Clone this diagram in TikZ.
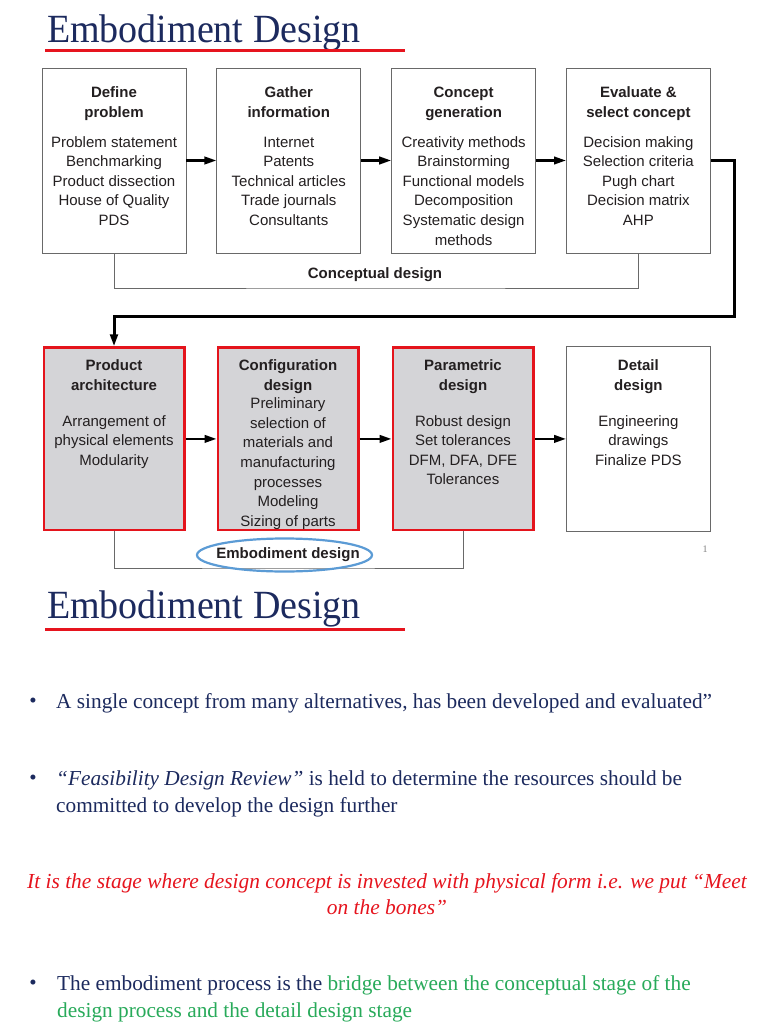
\documentclass[tikz,border=0pt]{standalone}
\usepackage{fontspec}
\setmainfont{Liberation Serif}
\setsansfont{Liberation Sans}
\newfontfamily\titlefont[FakeStretch=0.95]{Liberation Serif}
\usetikzlibrary{positioning, arrows.meta, shapes.geometric}

\definecolor{navy}{RGB}{28,42,94}
\definecolor{slidered}{RGB}{230,20,30}
\definecolor{bridgegreen}{RGB}{40,170,90}
\definecolor{ringblue}{RGB}{91,155,213}
\definecolor{boxgray}{RGB}{105,105,105}
\definecolor{corefill}{RGB}{212,212,215}
\definecolor{corered}{RGB}{228,20,28}
\definecolor{inktext}{RGB}{35,31,32}

% heading strut, heading, gap, body
\newcommand{\stagetext}[4]{%
  \parbox[t][177pt][t]{140pt}{\centering\rule{0pt}{#1}\textbf{#2}\par\vspace{#3}#4}}

\begin{document}
\begin{tikzpicture}[x=1pt, y=-1pt, node distance=30pt,
  every node/.style={font=\sffamily},
  stage/.style={draw=boxgray, line width=0.8pt, fill=white, inner xsep=2pt,
    inner ysep=4pt, text=inktext, font=\sffamily\fontsize{15}{19.6}\selectfont},
  core/.style={draw=corered, line width=2.6pt, fill=corefill, inner xsep=0.2pt, inner ysep=2.7pt},
  flow/.style={-{Triangle[length=12pt,width=7.5pt]}, line width=2.4pt},
  bracket/.style={draw=boxgray, line width=0.9pt},
  slidetitle/.style={anchor=base west, inner sep=0pt, text=navy, font=\titlefont\fontsize{40}{44}\selectfont},
  titlerule/.style={draw=slidered, line width=3pt},
  bullettext/.style={anchor=base west, align=left, inner sep=0pt, text=navy,
    font=\rmfamily\fontsize{21.3}{27}\selectfont},
  bulletdot/.style={inner sep=0pt, text=navy, font=\rmfamily\fontsize{21}{21}\selectfont}]

\path[use as bounding box, fill=white] (0,0) rectangle (768,1024);

% first slide
\node (title1) [slidetitle] at (47,43) {Embodiment Design};
\draw[titlerule] (45,51) -- (405,51);

\node (define) [stage] at (114,160.5)
  {\stagetext{26pt}{Define\\problem}{10pt}{Problem statement\\Benchmarking\\Product dissection\\House of Quality\\PDS}};
\node (gather) [stage, right=of define]
  {\stagetext{26pt}{Gather\\information}{10pt}{Internet\\Patents\\Technical articles\\Trade journals\\Consultants}};
\node (concept) [stage, right=of gather]
  {\stagetext{26pt}{Concept\\generation}{10pt}{Creativity methods\\Brainstorming\\Functional models\\Decomposition\\Systematic design\\methods}};
\node (evaluate) [stage, right=of concept]
  {\stagetext{26pt}{Evaluate \&\\select concept}{10pt}{Decision making\\Selection criteria\\Pugh chart\\Decision matrix\\AHP}};

\node (product) [stage, core, below=93pt of define]
  {\stagetext{20.5pt}{Product\\architecture}{16pt}{Arrangement of\\physical elements\\Modularity}};
\node (configuration) [stage, core, right=31pt of product]
  {\stagetext{20.5pt}{Configuration\\design}{-1.5pt}{Preliminary\\selection of\\materials and\\manufacturing\\processes\\Modeling\\Sizing of parts}};
\node (parametric) [stage, core, right=32pt of configuration]
  {\stagetext{20.5pt}{Parametric\\design}{16pt}{Robust design\\Set tolerances\\DFM, DFA, DFE\\Tolerances}};
\node (detail) [stage, right=31.5pt of parametric]
  {\stagetext{20.5pt}{Detail\\design}{16pt}{Engineering\\drawings\\Finalize PDS}};

\draw[flow] (define.east) -- (gather.west);
\draw[flow] (gather.east) -- (concept.west);
\draw[flow] (concept.east) -- (evaluate.west);
\draw[flow] (product.east) -- (configuration.west);
\draw[flow] (configuration.east) -- (parametric.west);
\draw[flow] (parametric.east) -- (detail.west);

\coordinate (turn) at (734,316);
\draw[flow, line width=3pt] (evaluate.east) -| (turn) -| (product.north);

\coordinate (conceptbase) at (375,288);
\draw[bracket] (define.south) |- (conceptbase) -| (evaluate.south);
\node (conceptual) [text=inktext, font=\sffamily\bfseries\fontsize{15}{18}\selectfont] at (375,275) {Conceptual design};

\coordinate (embodybase) at (288,568);
\draw[bracket] (product.south) |- (embodybase) -| (parametric.south);
\node (embodiment) [text=inktext, font=\sffamily\bfseries\fontsize{15}{18}\selectfont] at (288,555) {Embodiment design};
\draw[draw=ringblue, line width=2.2pt] ([xshift=-3.5pt]embodiment.center) ellipse [x radius=87.5pt, y radius=16.5pt];

\node (pageno) [text=gray, font=\rmfamily\fontsize{10}{11}\selectfont] at (705,549) {1};

% second slide
\node (title2) [slidetitle] at (47,618) {Embodiment Design};
\draw[titlerule] (45,629) -- (405,629);

\node (dot1) [bulletdot] at (33,703) {•};
\node (point1) [bullettext] at (56,708) {A single concept from many alternatives, has been developed and evaluated”};

\node (dot2) [bulletdot] at (33,780) {•};
\node (point2) [bullettext] at (56,812)
  {\textit{“Feasibility Design Review”} is held to determine the resources should be\\committed to develop the design further};

\node (claim) [anchor=base, align=center, inner sep=0pt, text=slidered,
  font=\rmfamily\itshape\fontsize{21.4}{26}\selectfont] at (387,914)
  {It is the stage where design concept is invested with physical form i.e. we put “Meet\\on the bones”};

\node (dot3) [bulletdot] at (33,985) {•};
\node (point3) [bullettext] at (57,1017)
  {The embodiment process is the \textcolor{bridgegreen}{bridge between the conceptual stage of the}\\\textcolor{bridgegreen}{design process and the detail design stage}};
\end{tikzpicture}
\end{document}
